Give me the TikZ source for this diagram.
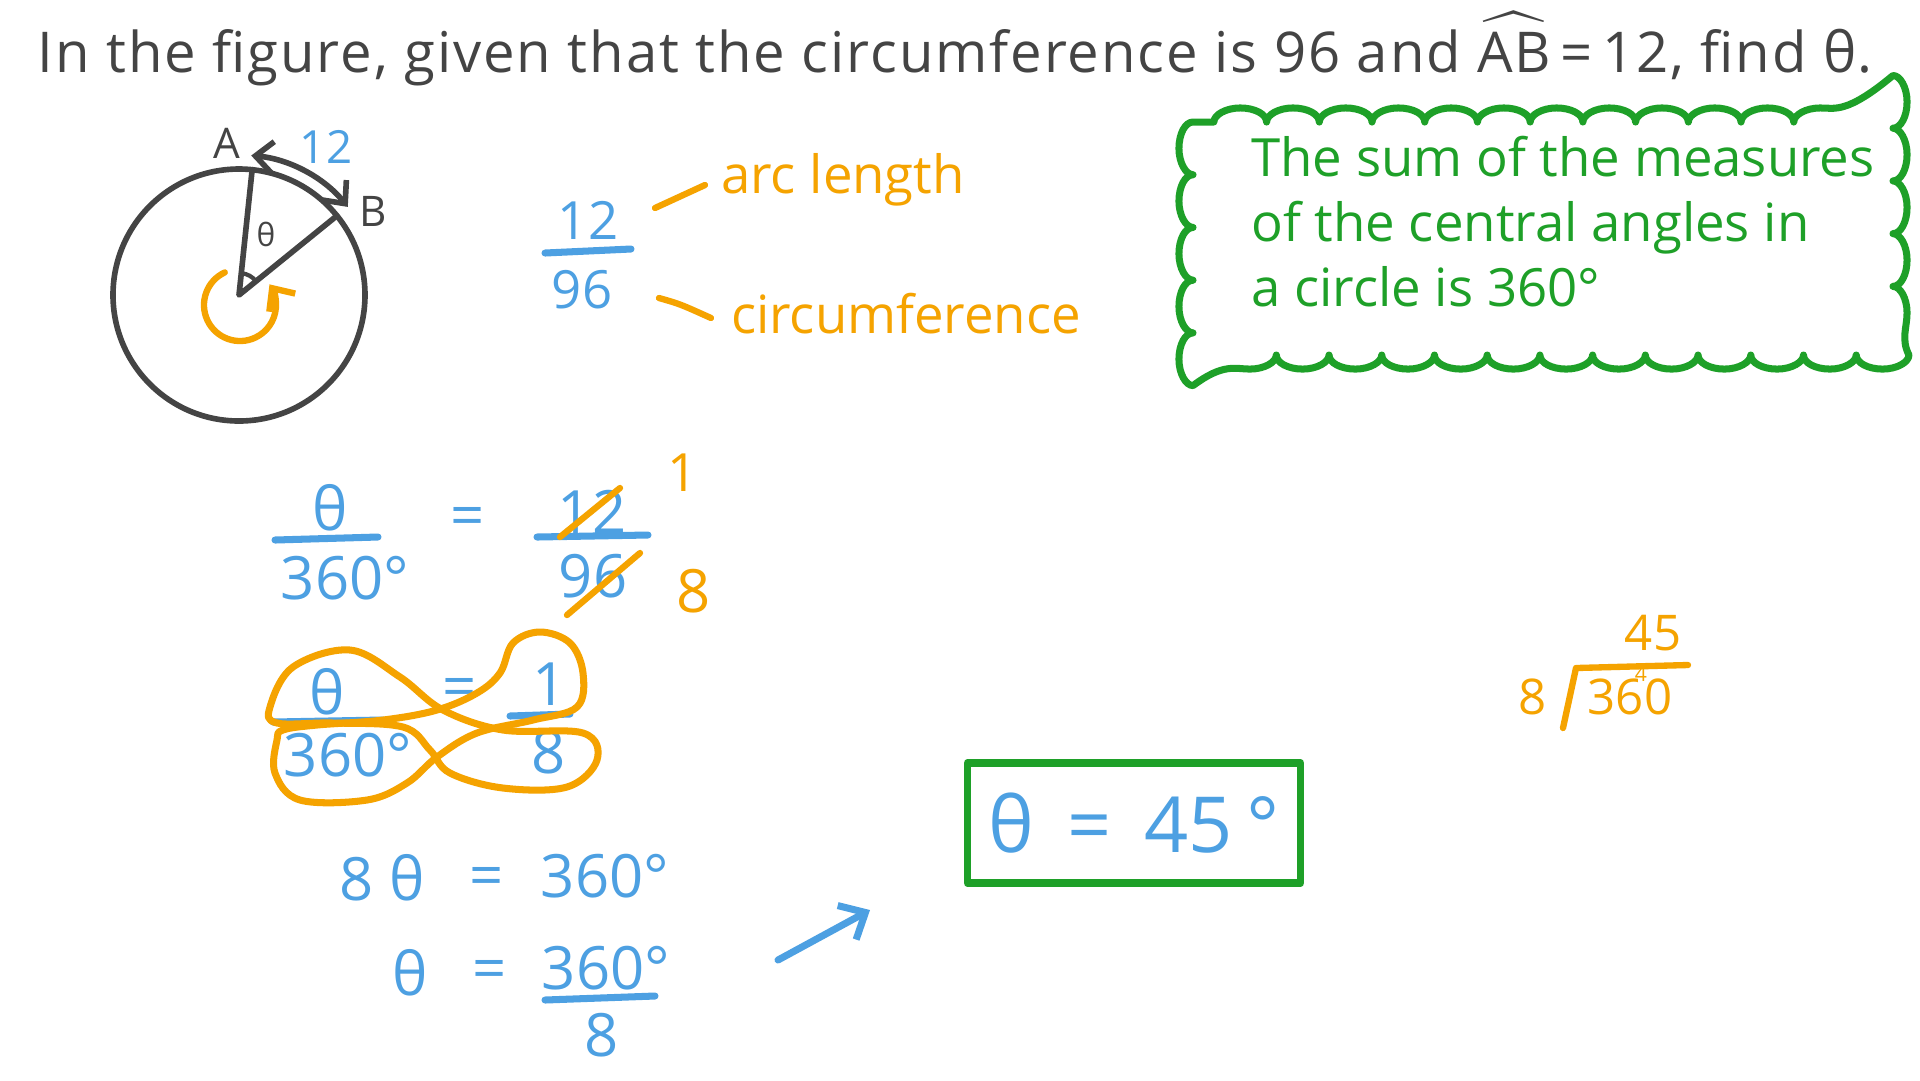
\documentclass[tikz,border=0pt]{standalone}
\usepackage{amsmath}
\usepackage{fontspec}
\setmainfont{Open Sans}
\usetikzlibrary{arrows.meta, positioning, calc, decorations.pathmorphing}

\definecolor{inkgrey}{RGB}{68,68,68}
\definecolor{penblue}{RGB}{77,160,226}
\definecolor{penorange}{RGB}{245,163,0}
\definecolor{pengreen}{RGB}{30,160,40}

\tikzset{
  question/.style={text=inkgrey, font=\fontsize{16}{19}\selectfont\addfontfeature{LetterSpace=3.4}},
  pointlabel/.style={text=inkgrey, font=\fontsize{12}{14}\selectfont},
  bluetxt/.style={text=penblue, font=\fontsize{17}{20}\selectfont},
  orangetxt/.style={text=penorange, font=\fontsize{15}{18}\selectfont},
  fracbar/.style={penblue, line width=2pt},
  lasso/.style={penorange, line width=2pt},
  strike/.style={penorange, line width=1.8pt},
  cloudline/.style={pengreen, line width=2pt, decorate,
    decoration={bumps, mirror, segment length=30pt, amplitude=4pt}},
}

\begin{document}
\begin{tikzpicture}[x=0.1mm, y=-0.1mm, line cap=round, line join=round]
\fill[white] (0,0) rectangle (1920,1080);
\useasboundingbox (0,0) rectangle (1920,1080);

% Question
\node[question] (q) at (955,49) {In the figure, given that the circumference is 96 and $\widehat{\text{AB}}$\,=\,12, find θ.};

% Circle with sector AOB
\coordinate (O) at (239,295);
\draw[inkgrey, line width=1.6pt] (O) circle[radius=126];
\draw[inkgrey, line width=1.6pt] ($(O)+(-84:126)$) -- (O) -- ($(O)+(-39:126)$);
\draw[inkgrey, line width=1.2pt] ($(O)+(-84:22)$) arc[start angle=-84, end angle=-39, radius=22];
\draw[inkgrey, line width=1.6pt, {Straight Barb[length=5pt,width=9pt]}-{Straight Barb[length=5pt,width=9pt]}]
  ($(O)+(-85:140)$) arc[start angle=-85, end angle=-39, radius=140];
\node[pointlabel] (A) at (227,143) {A};
\node[pointlabel] (B) at (373,211) {B};
\node[text=penblue, font=\fontsize{13}{15}\selectfont] (arclab) at (326,147) {12};
\node[text=inkgrey, font=\fontsize{9}{11}\selectfont] (thetalab) at (266,234) {θ};
\draw[penorange, line width=1.8pt, -{Straight Barb[length=5pt,width=9pt]}]
  ($(240,305)+(-115:36)$) arc[start angle=-115, end angle=-395, radius=36];

% Ratio arc length / circumference
\node[bluetxt, font=\fontsize{15}{18}\selectfont] (num) at (588,220) {12};
\draw[fracbar] (545,253) -- (631,249);
\node[bluetxt, font=\fontsize{15}{18}\selectfont] (den) at (582,290) {96};
\draw[strike] (655,208) -- (705,185);
\draw[strike] (659,298) .. controls (680,304) .. (711,318);
\node[orangetxt] (arclen) at (843,180) {arc length};
\node[orangetxt] (circum) at (906,314) {circumference};

% Fact about central angles
\node[text=pengreen, font=\fontsize{15}{18.5}\selectfont, align=left, inner sep=0pt] (fact) at (1563,222)
  {The sum of the measures\\of the central angles in\\a circle is 360°};
\draw[cloudline] ($(fact.center)+(-370,-100)$) rectangle ($(fact.center)+(330,133)$);

% Proportion
\node[bluetxt] (t1) at (330,508) {θ};
\draw[fracbar] (275,540) -- (378,537);
\node[bluetxt] (d1) at (345,578) {360°};
\node[bluetxt] (eq1) at (468,522) {=};
\node[bluetxt] (n1) at (592,512) {12};
\draw[fracbar] (537,537) -- (648,535);
\node[bluetxt] (m1) at (593,576) {96};
\draw[strike] (560,537) -- (620,488);
\draw[strike] (567,615) -- (640,553);
\node[orangetxt] (one) at (683,473) {1};
\node[orangetxt, font=\fontsize{17}{20}\selectfont] (eight) at (694,591) {8};

% Simplified proportion
\node[bluetxt] (t2) at (327,692) {θ};
\draw[fracbar] (273,722) -- (383,720);
\node[bluetxt] (d2) at (348,755) {360°};
\node[bluetxt] (eq2) at (460,693) {=};
\node[bluetxt] (n2) at (550,684) {1};
\draw[fracbar] (510,716) -- (570,714);
\node[bluetxt] (m2) at (549,752) {8};

% Cross multiplication loops
\draw[lasso] plot[smooth cycle, tension=0.6] coordinates {(270,707) (293,667) (350,650) (400,677) (443,710) (503,730) (583,733) (597,760) (567,787) (503,788) (450,773) (430,750) (403,727) (333,723) (277,723)};
\draw[lasso] plot[smooth cycle, tension=0.6] coordinates {(277,740) (275,773) (300,800) (367,800) (407,783) (437,757) (477,733) (533,720) (577,707) (583,673) (570,643) (540,632) (513,643) (500,673) (477,693) (437,710) (383,720) (317,725) (283,730)};

% Solving
\node[bluetxt] (l3) at (382,878) {8 θ};
\node[bluetxt] (eq3) at (487,882) {=};
\node[bluetxt] (r3) at (605,876) {360°};
\node[bluetxt] (l4) at (410,973) {θ};
\node[bluetxt] (eq4) at (490,975) {=};
\node[bluetxt] (n4) at (606,968) {360°};
\draw[fracbar] (545,1000) -- (655,996);
\node[bluetxt] (m4) at (602,1035) {8};

% Arrow to answer
\coordinate (arrowtail) at (778,960);
\coordinate (arrowtip) at (870,910);
\draw[penblue, line width=2pt, -{Straight Barb[length=6pt,width=11pt]}] (arrowtail) -- (arrowtip);

% Answer
\node[draw=pengreen, line width=2.2pt, text=penblue, font=\fontsize{22}{26}\selectfont,
  minimum width=3.33cm, minimum height=1.2cm] (answer) at (1134,823) {θ\ \,=\ \,45\,°};

% Long division
\node[orangetxt, font=\fontsize{14}{17}\selectfont] (quot) at (1653,633) {45};
\node[orangetxt, font=\fontsize{14}{17}\selectfont] (divisor) at (1533,697) {8};
\node[orangetxt, font=\fontsize{14}{17}\selectfont] (dividend) at (1630,697) {360};
\draw[penorange, line width=1.8pt] (1563,728) -- (1576,668) -- (1688,665);
\node[text=penorange, font=\fontsize{6}{7}\selectfont] (carry) at (1641,674) {4};
\end{tikzpicture}
\end{document}
